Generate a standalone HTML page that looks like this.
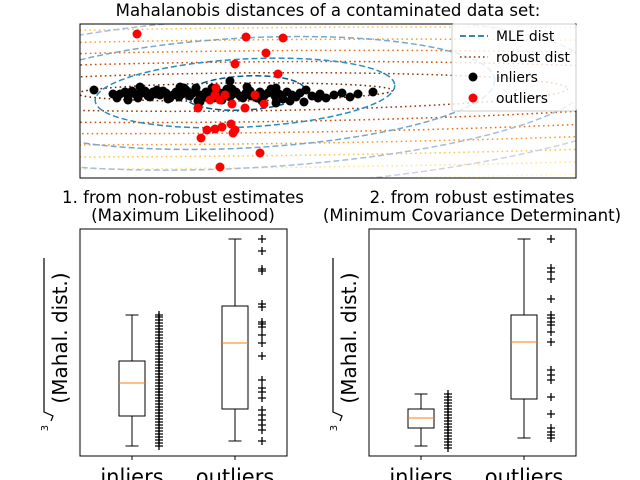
<!DOCTYPE html>
<html><head><meta charset="utf-8"><style>
html,body{margin:0;padding:0;background:#fff;}
svg{display:block;font-family:"DejaVu Sans","Liberation Sans",sans-serif;}
</style></head><body>
<svg id="fig" width="640" height="480" viewBox="0 0 640 480">
<rect width="640" height="480" fill="#fff"/>
<text x="328" y="16" font-size="16.6" text-anchor="middle">Mahalanobis distances of a contaminated data set:</text>
<defs><clipPath id="topclip"><rect x="80" y="24" width="496" height="154"/></clipPath></defs>
<g id="topg" clip-path="url(#topclip)"></g>
<rect x="80" y="24" width="496" height="154" fill="none" stroke="#000" stroke-width="1"/>
<g>
<rect x="452" y="24" width="124" height="87" fill="#fff" fill-opacity="0.8" stroke="#ccc" rx="2"/>
<line x1="460" y1="36" x2="488" y2="36" stroke="#045a8d" stroke-width="1.6" stroke-dasharray="6,3"/>
<text x="496" y="41" font-size="13.9">MLE dist</text>
<line x1="460" y1="57" x2="488" y2="57" stroke="#993404" stroke-width="1.6" stroke-dasharray="1.6,3"/>
<text x="496" y="62" font-size="13.9">robust dist</text>
<circle cx="473" cy="77" r="4.5" fill="#000"/>
<text x="496" y="82" font-size="13.9">inliers</text>
<circle cx="473" cy="98" r="4.5" fill="#f00"/>
<text x="496" y="103" font-size="13.9">outliers</text>
</g>
<text x="183" y="203" font-size="16.6" text-anchor="middle">1. from non-robust estimates</text>
<text x="183" y="221" font-size="16.6" text-anchor="middle">(Maximum Likelihood)</text>
<text x="472" y="203" font-size="16.6" text-anchor="middle">2. from robust estimates</text>
<text x="472" y="221" font-size="16.6" text-anchor="middle">(Minimum Covariance Determinant)</text>
<g id="box1"></g>
<g id="box2"></g>
</svg>
<script>
// top scatter data (x: 0..496, y: 0..154 in data units, y up)
const inlierX=[14,33,37,40,45,48,52,55,58,62,65,68,70,73,76,80,83,86,90,93,96,99,102,106,110,113,116,120,123,126,130,134,137,140,143,147,150,153,156,160,163,166,170,174,177,180,184,188,191,195,199,203,207,212,216,220,226,232,240,246,254,262,270,278,293,48,60,77,88,104,118,132,142,152,167,182,196,210,224,238,150,171,196,120,100];
const inlierY=[88,84,80,84,86,82,87,84,80,85,87,82,81,86,84,83,87,85,80,83,86,81,84,88,82,85,90,83,81,86,84,80,87,83,85,89,81,84,86,82,80,85,87,83,80,86,82,85,89,82,84,79,86,83,81,85,88,82,84,80,83,85,81,84,86,78,91,88,79,90,77,90,78,89,91,77,90,77,76,80,97,82,75,76,91];
const outlierX=[57,166,203,186,155,198,136,135,140,145,130,175,118,165,184,152,151,127,135,155,142,121,153,180,140];
const outlierY=[144,141,140,125,114,104,90,83,78,83,78,83,70,70,74,74,54,48,49,48,51,40,45,25,11];
function sx(v){return 80+v;}
function sy(v){return 178-v;}
const NS="http://www.w3.org/2000/svg";
const topG=document.getElementById('topg');
function mk(tag,attrs,parent){const e=document.createElementNS(NS,tag);for(const k in attrs)e.setAttribute(k,attrs[k]);parent.appendChild(e);return e;}
const robustRy=[9,19,30,41,52,64,76,88];
const robustColors=['#662506','#993404','#cc4c02','#ec7014','#fe9929','#fec44f','#fee391','#fff7bc'];
robustRy.forEach((r,i)=>{
  const el=mk('ellipse',{cx:sx(155),cy:sy(86),rx:17.5*r,ry:r,transform:'rotate(-0.6 '+sx(155)+' '+sy(86)+')',fill:'none',stroke:robustColors[i],'stroke-width':1.5,'stroke-dasharray':'1.6,3.2'},topG);
  
  
});
const mleRx=[60,150,250,350,450];
const mleRy=[17,34,55,75,95];
const mleColors=['#045a8d','#2b8cbe','#74a9cf','#a6bddb','#d0d1e6'];
mleRx.forEach((r,i)=>{
  const el=mk('ellipse',{cx:sx(165),cy:sy(85),rx:r,ry:mleRy[i],transform:'rotate(-3 '+sx(165)+' '+sy(85)+')',fill:'none',stroke:mleColors[i],'stroke-width':1.5,'stroke-dasharray':'6,3'},topG);
  
  
});
inlierX.forEach((x,i)=>{
  const c=mk('circle',{cx:sx(x),cy:sy(inlierY[i]),r:4.5,fill:'#000'},topG);
  
  
});
outlierX.forEach((x,i)=>{
  const c=mk('circle',{cx:sx(x),cy:sy(outlierY[i]),r:4.5,fill:'#f00'},topG);
  
  
});

// boxplot data (value units: 0 = axis bottom, 227 = axis top)
const categories=['inliers','outliers'];
const box1Stats=[[10,40,73,95,141],[15,47,113,150,217]];
const box1Fliers=[[10,13,16,19,22,25,28,31,34,37,40,43,46,49,52,55,58,61,64,67,70,73,76,79,82,85,88,91,94,97,100,103,106,109,112,115,118,121,124,127,130,133,136,139,141],
[15,26,31,36,41,46,58,64,68,76,100,113,121,129,132,134,149,152,185,187,205,217]];
const box2Stats=[[10,28,38,47,62],[18,57,114,141,217]];
const box2Fliers=[[8,11,14,17,20,23,26,29,32,35,38,41,44,47,50,53,56,59,62],
[18,21,24,28,42,59,76,81,86,114,124,131,134,138,141,157,177,184,188,217]];
function drawBox(gid,x0,stats,fliers){
  const g=document.getElementById(gid);
  const W=207,H=227,y0=229;
  const yv=v=>y0+H-v;
  const xc=i=>x0+52+103*i;
  const ax=mk('rect',{x:x0,y:y0,width:W,height:H,fill:'none',stroke:'#000'},g);
  
  
  stats.forEach((s,i)=>{
    const c=xc(i);
    const gg=mk('g',{},g);
    
    
    mk('line',{x1:c,x2:c,y1:yv(s[0]),y2:yv(s[1]),stroke:'#000'},gg);
    mk('line',{x1:c,x2:c,y1:yv(s[3]),y2:yv(s[4]),stroke:'#000'},gg);
    mk('line',{x1:c-6.5,x2:c+6.5,y1:yv(s[0]),y2:yv(s[0]),stroke:'#000'},gg);
    mk('line',{x1:c-6.5,x2:c+6.5,y1:yv(s[4]),y2:yv(s[4]),stroke:'#000'},gg);
    mk('rect',{x:c-13,y:yv(s[3]),width:26,height:s[3]-s[1],fill:'none',stroke:'#000'},gg);
    mk('line',{x1:c-13,x2:c+13,y1:yv(s[2]),y2:yv(s[2]),stroke:'#ff7f0e'},gg);
    const fx=c+27;
    fliers[i].forEach(v=>{
      const p=mk('path',{d:'M'+(fx-4)+' '+yv(v)+'h8M'+fx+' '+(yv(v)-4)+'v8',stroke:'#000','stroke-width':1.3},gg);
      
      
    });
    mk('line',{x1:c,x2:c,y1:y0+H,y2:y0+H+4,stroke:'#000'},g);
    const t=mk('text',{x:c,y:484,'font-size':21,'text-anchor':'middle'},g);
    t.textContent=categories[i];
    
    
  });
  const tx=x0-20;
  const yl=mk('g',{},g);
  
  
  const t=mk('text',{x:tx+7,y:338,'font-size':20,'text-anchor':'middle',transform:'rotate(-90 '+(tx+7)+' 338)'},yl);
  t.textContent='(Mahal. dist.)';
  mk('path',{d:'M'+(x0-36)+' 258 V412 L'+(x0-27)+' 416 L'+(x0-29)+' 421',fill:'none',stroke:'#000','stroke-width':1.2},yl);
  const n=mk('text',{x:x0-32,y:428,'font-size':10,'text-anchor':'middle',transform:'rotate(-90 '+(x0-32)+' 428)'},yl);
  n.textContent='3';
}
drawBox('box1',80,box1Stats,box1Fliers);
drawBox('box2',369,box2Stats,box2Fliers);
</script>
</body></html>
